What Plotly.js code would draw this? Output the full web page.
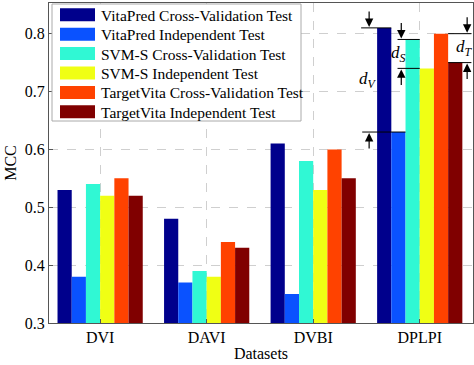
<!DOCTYPE html>
<html><head><meta charset="utf-8">
<script src="https://cdn.plot.ly/plotly-3.0.1.min.js"></script>
<style>html,body{margin:0;padding:0;background:#fff}#chart{width:474px;height:365px}</style>
</head><body><div id="chart"></div>
<script>
const categories = ['DVI', 'DAVI', 'DVBI', 'DPLPI'];
const seriesNames = ['VitaPred Cross-Validation Test', 'VitaPred Independent Test', 'SVM-S Cross-Validation Test', 'SVM-S Independent Test', 'TargetVita Cross-Validation Test', 'TargetVita Independent Test'];
const vitaPredCV = [0.53, 0.48, 0.61, 0.81];
const vitaPredInd = [0.38, 0.37, 0.35, 0.63];
const svmsCV = [0.54, 0.39, 0.58, 0.79];
const svmsInd = [0.52, 0.38, 0.53, 0.74];
const targetVitaCV = [0.55, 0.44, 0.60, 0.80];
const targetVitaInd = [0.52, 0.43, 0.55, 0.75];
const colors = ['#00008C', '#0A52FF', '#30F8D4', '#F0FF14', '#FF4200', '#800000'];

const allSeries = [vitaPredCV, vitaPredInd, svmsCV, svmsInd, targetVitaCV, targetVitaInd];
const traces = allSeries.map((vals, i) => ({
  type: 'bar', name: seriesNames[i], x: categories, y: vals, showlegend: false,
  marker: {color: colors[i], line: {width: 0}}
}));

const bargap = 0.2, nS = allSeries.length, bw = (1 - bargap) / nS;
const bL = (c, i) => c - (1 - bargap) / 2 + i * bw;
const bR = (c, i) => bL(c, i) + bw;
const g = categories.indexOf('DPLPI');

const lineStyle = {color: '#000', width: 1};
const shapes = [];
const annotations = [];

// Legend (drawn in plot-domain coordinates, Matlab style with wide swatches)
const M = {l: 49, r: 1, t: 3, b: 42}, W = 474, H = 365;
const pw = W - M.l - M.r, ph = H - M.t - M.b;
const px = p => (p - M.l) / pw;
const py = p => (H - M.b - p) / ph;
shapes.push({type: 'rect', xref: 'paper', yref: 'paper', layer: 'above',
  x0: px(52), x1: px(301), y0: py(121), y1: py(4), fillcolor: '#fff', line: {color: '#aaa', width: 1}});
seriesNames.forEach((name, i) => {
  const cy = 14.8 + i * 19.4;
  shapes.push({type: 'rect', xref: 'paper', yref: 'paper', layer: 'above',
    x0: px(60), x1: px(95), y0: py(cy + 6.5), y1: py(cy - 6.5), fillcolor: colors[i], line: {width: 0}});
  annotations.push({xref: 'paper', yref: 'paper', x: px(99), y: py(cy + 0.5), xanchor: 'left', yanchor: 'middle',
    showarrow: false, text: name, font: {family: 'Liberation Serif', size: 15.5, color: '#000'}});
});

function hline(x0, x1, y) { shapes.push({type: 'line', xref: 'x', yref: 'y', x0, x1, y0: y, y1: y, line: lineStyle}); }
// d_V
hline(bL(g, 0) - 0.15, bR(g, 0), vitaPredCV[g]);
hline(bL(g, 0) - 0.14, bR(g, 1), vitaPredInd[g]);
// d_S
hline(bL(g, 2) - 0.075, bR(g, 2), svmsCV[g]);
hline(bL(g, 2) - 0.075, bR(g, 2), svmsInd[g]);
// d_T
hline(bL(g, 5), bR(g, 5) + 0.085, targetVitaCV[g]);
hline(bL(g, 5), bR(g, 5) + 0.085, targetVitaInd[g]);

function arrow(x, y, down) {
  annotations.push({x, y, xref: 'x', yref: 'y', ax: 0, ay: down ? -18 : 18, text: '', showarrow: true,
    arrowhead: 2, arrowsize: 1.4, arrowwidth: 1.2, arrowcolor: '#000', standoff: 1});
}
arrow(bL(g, 0) - 0.075, vitaPredCV[g], true);
arrow(bL(g, 0) - 0.075, vitaPredInd[g], false);
arrow(bL(g, 2) - 0.04, svmsCV[g], true);
arrow(bL(g, 2) - 0.04, svmsInd[g], false);
arrow(bR(g, 5) + 0.045, targetVitaCV[g], true);
arrow(bR(g, 5) + 0.045, targetVitaInd[g], false);

function label(x, y, sub) {
  annotations.push({x, y, xref: 'x', yref: 'y', showarrow: false,
    text: '<i>d</i><sub><i>' + sub + '</i></sub>',
    font: {family: 'Liberation Serif', size: 17, color: '#000'}});
}
label(bL(g, 0) - 0.085, (vitaPredCV[g] + vitaPredInd[g]) / 2, 'V');
label(bL(g, 2) - 0.065, (svmsCV[g] + svmsInd[g]) / 2, 'S');
label(bR(g, 5) + 0.02, (targetVitaCV[g] + targetVitaInd[g]) / 2, 'T');

const font = {family: 'Liberation Serif, Times New Roman, serif', color: '#000'};
const layout = {
  width: W, height: H,
  margin: M,
  paper_bgcolor: '#fff', plot_bgcolor: '#fff',
  barmode: 'group', bargap: bargap, bargroupgap: 0,
  showlegend: false,
  font: Object.assign({size: 16}, font),
  xaxis: {
    type: 'category', range: [-0.48, 3.5],
    showgrid: true, gridcolor: '#cfcfcf', griddash: 'dash', gridwidth: 1,
    showline: true, mirror: true, linecolor: '#555', linewidth: 1,
    ticks: 'inside', ticklen: 4, tickcolor: '#555',
    tickfont: Object.assign({size: 16}, font),
    title: {text: 'Datasets', font: Object.assign({size: 16}, font), standoff: 2},
    zeroline: false
  },
  yaxis: {
    range: [0.3, 0.853], dtick: 0.1, tickformat: '.1f',
    showgrid: true, gridcolor: '#cfcfcf', griddash: 'dash', gridwidth: 1,
    showline: true, mirror: true, linecolor: '#555', linewidth: 1,
    ticks: 'inside', ticklen: 4, tickcolor: '#555',
    tickfont: Object.assign({size: 16}, font),
    title: {text: 'MCC', font: Object.assign({size: 16}, font), standoff: 4},
    zeroline: false
  },
  shapes: shapes,
  annotations: annotations
};
Plotly.newPlot('chart', traces, layout, {displayModeBar: false, staticPlot: true});
</script></body></html>
